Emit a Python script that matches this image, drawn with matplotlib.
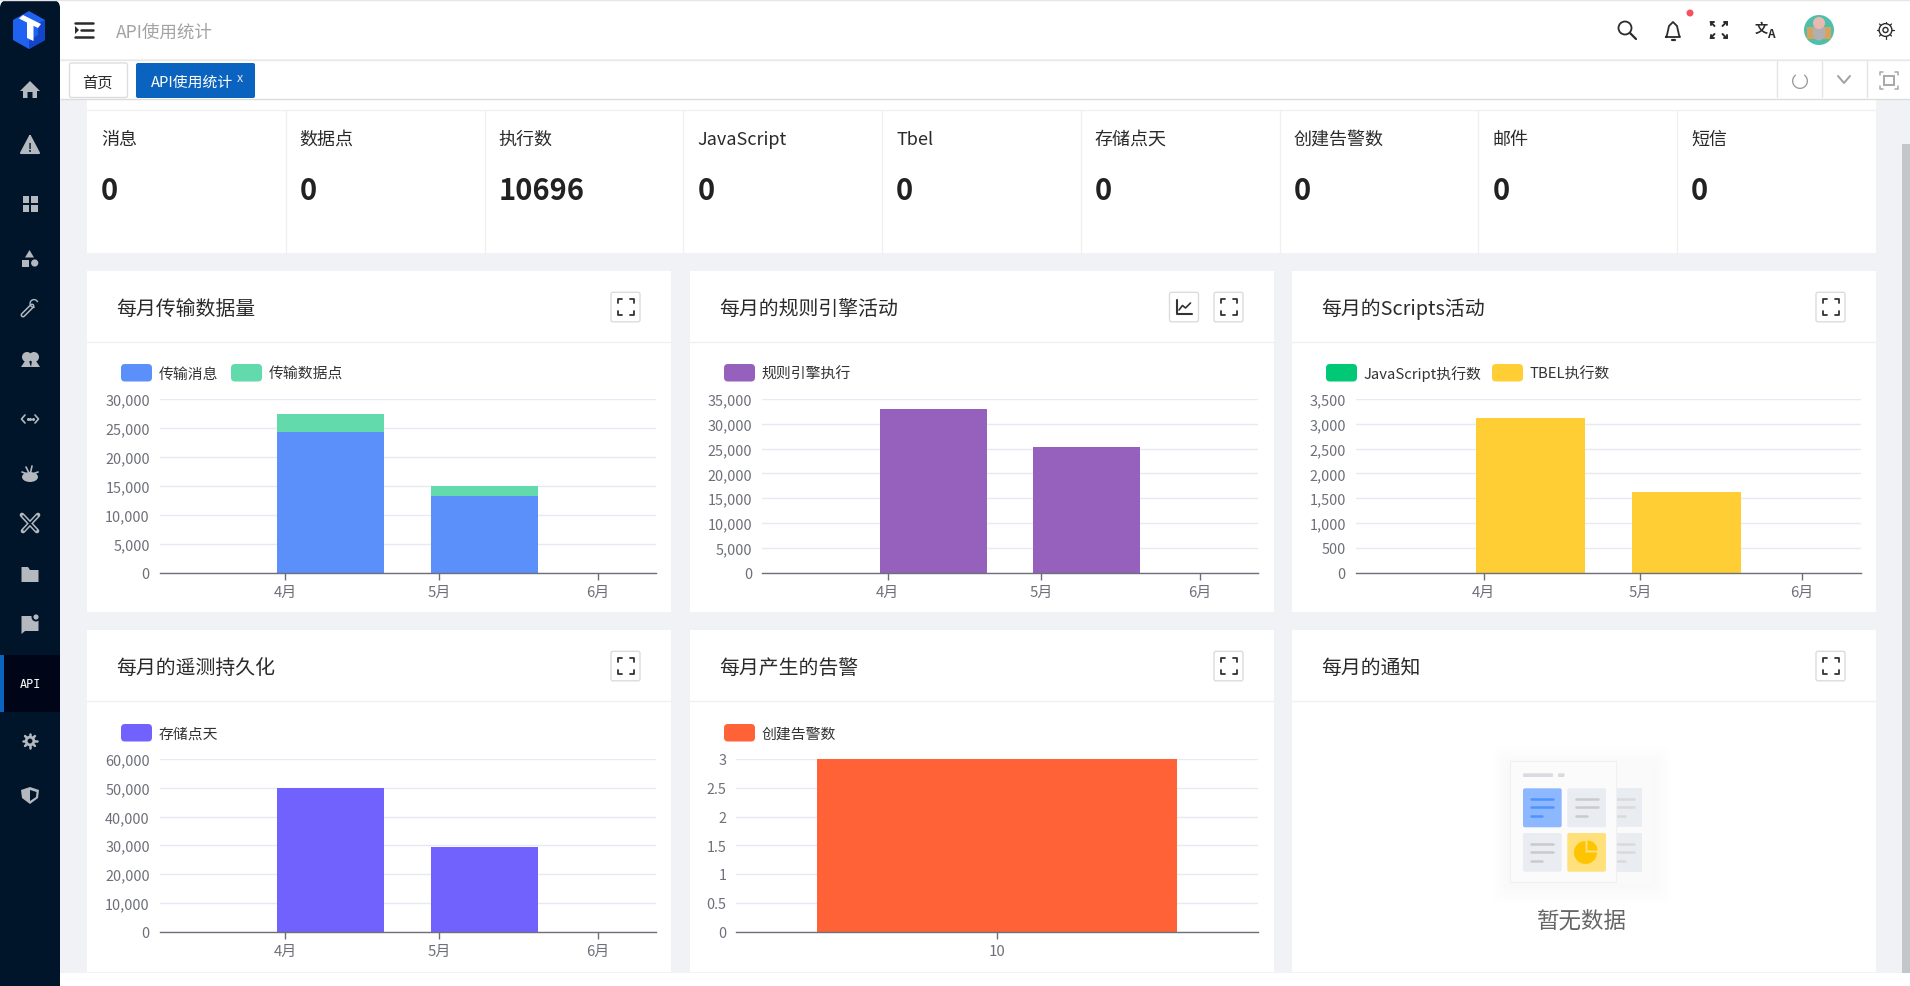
import numpy as np
import matplotlib
matplotlib.use("Agg")
import matplotlib.pyplot as plt
from matplotlib.patches import Rectangle, FancyBboxPatch, Circle, Polygon, Wedge, Ellipse

plt.rcParams['font.family'] = ['Noto Sans CJK SC', 'DejaVu Sans']

W, H = 1910, 987

# Datos
stat_labels = ['消息', '数据点', '执行数', 'JavaScript', 'Tbel', '存储点天', '创建告警数', '邮件', '短信']
stat_values = ['0', '0', '10696', '0', '0', '0', '0', '0', '0']

months = ['4月', '5月', '6月']
month_days = [0, 30, 61]      # eje de tiempo, dias desde el 1 de abril
bar_days = [8.9, 38.9]

transport_msgs = [24300, 13300]
transport_points = [3100, 1600]
rule_engine = [32900, 25300]
js_exec = [0, 0]
tbel_exec = [3115, 1625]
storage_days = [50000, 29500]
alarm_cats = ['10']
alarm_values = [3]

ticks_30k = [0, 5000, 10000, 15000, 20000, 25000, 30000]
ticks_35k = [0, 5000, 10000, 15000, 20000, 25000, 30000, 35000]
ticks_3500 = [0, 500, 1000, 1500, 2000, 2500, 3000, 3500]
ticks_60k = [0, 10000, 20000, 30000, 40000, 50000, 60000]
ticks_alarm = [0, 0.5, 1, 1.5, 2, 2.5, 3]

BG = '#F0F2F5'
SIDE = '#00152A'
ICON = '#B4B8BF'
DARK = '#2B2B2B'
AXIS = '#6E7079'
GRID = '#E6EAF3'

fig = plt.figure(figsize=(W / 100, H / 100), dpi=100, facecolor='white')

# Capa de fondo en pixeles
bg = fig.add_axes([0, 0, 1, 1])
bg.set_xlim(0, W)
bg.set_ylim(H, 0)
bg.axis('off')


def rect(x0, y0, x1, y1, color, z=1, **kw):
    bg.add_patch(Rectangle((x0, y0), x1 - x0, y1 - y0, facecolor=color, edgecolor='none', zorder=z, **kw))


def rrect(x0, y0, x1, y1, color, edge='none', r=3, z=2, lw=1):
    bg.add_patch(FancyBboxPatch((x0 + r, y0 + r), x1 - x0 - 2 * r, y1 - y0 - 2 * r,
                                boxstyle='round,pad=%d,rounding_size=%d' % (r, r),
                                facecolor=color, edgecolor=edge, linewidth=lw, zorder=z))


def line(xs, ys, color=DARK, lw=1.5, z=3):
    bg.plot(xs, ys, color=color, lw=lw, zorder=z, solid_capstyle='round')


def poly(pts, color, z=3):
    bg.add_patch(Polygon(pts, closed=True, facecolor=color, edgecolor='none', zorder=z))


def txt(x, y, s, size, color=DARK, ha='left', weight='normal', z=4, **kw):
    bg.text(x, y, s, fontsize=size, color=color, ha=ha, va='center', fontweight=weight, zorder=z, **kw)


def gear(x, y, r, color, lw=2.0, outline=True, hole='white'):
    for a in np.arange(0, np.pi, np.pi / 4):
        line([x - r * np.cos(a), x + r * np.cos(a)], [y - r * np.sin(a), y + r * np.sin(a)], color, lw)
    bg.add_patch(Circle((x, y), r * 0.75, facecolor=hole if outline else color, edgecolor=color,
                        lw=1 if outline else 0, zorder=3.5))
    if outline:
        bg.add_patch(Circle((x, y), r * 0.3, facecolor=hole, edgecolor=color, lw=1, zorder=3.6))
    else:
        bg.add_patch(Circle((x, y), r * 0.35, facecolor=SIDE, zorder=3.6))


# Fondo general
rect(60, 60, W, H, BG, z=0)
rect(60, 974, W, H, 'white', z=1)

# Barra superior y pestanas
rect(60, 1, W, 60, 'white')
line([60, W], [60.5, 60.5], '#E8E8E8', 1, z=2)
rect(60, 61, W, 100, 'white')
line([60, W], [100, 100], '#DCDCDC', 1, z=2)
line([0, W], [0.5, 0.5], '#E6E6E6', 1, z=2)

line([75, 93], [24, 24], DARK, 1.8)
line([81, 93], [31, 31], DARK, 1.8)
line([75, 93], [38, 38], DARK, 1.8)
poly([(75, 27), (79, 31), (75, 35)], DARK)
txt(116, 33, 'API使用统计', 12.6, '#A3A3A3')

rrect(69.5, 64, 127.5, 98.5, 'white', edge='#DDDDDD', r=2, z=3)
txt(97.5, 83, '首页', 11, DARK, ha='center')
rrect(136, 64, 255, 99, '#0A63BE', r=2, z=3)
txt(151, 83, 'API使用统计', 10.7, 'white')
txt(240, 79, 'x', 9, '#DCE8F7', ha='center')

for sx in [1776.5, 1821.5, 1866.5]:
    line([sx, sx], [62, 98], '#E4E4E4', 1)
bg.add_patch(Wedge((1800, 82), 8, -55, 235, width=1.3, facecolor='#999999', zorder=3))
line([1838, 1844, 1850], [77, 84, 77], '#A0A0A0', 1.4)
bg.add_patch(Rectangle((1884, 77), 10, 9, facecolor='none', edgecolor='#A8A8A8', lw=1.4, zorder=3))
for cx, dx in [(1880, 1), (1898, -1)]:
    line([cx + 3 * dx, cx, cx], [73, 73, 76], '#A8A8A8', 1.1)
    line([cx + 3 * dx, cx, cx], [90, 90, 87], '#A8A8A8', 1.1)

# Iconos arriba a la derecha
bg.add_patch(Circle((1625, 29), 6.5, facecolor='none', edgecolor=DARK, lw=1.3, zorder=3))
line([1630, 1636], [34, 40], DARK, 1.6)
bg.plot([1666, 1667, 1669, 1673, 1677, 1679, 1680, 1666], [38, 36, 27, 23, 27, 36, 38, 38], color=DARK, lw=1.3, zorder=3)
line([1671.5, 1674.5], [41, 41], DARK, 1.6)
bg.add_patch(Circle((1690, 14), 3.5, facecolor='#F5515F', zorder=3))
for sx, sy in [(-1, -1), (1, -1), (-1, 1), (1, 1)]:
    cx, cy = 1718.5 + sx * 8, 31 + sy * 8
    line([cx, cx - sx * 4], [cy, cy - sy * 4], DARK, 1.4)
    line([cx, cx - sx * 3], [cy, cy], DARK, 1.4)
    line([cx, cx], [cy, cy - sy * 3], DARK, 1.4)
txt(1761, 29, '文', 9.5, DARK, ha='center', weight='bold')
txt(1771, 35, 'A', 8.5, DARK, ha='center', weight='bold')
bg.add_patch(Circle((1819, 31), 15, facecolor='#4FBFAD', zorder=3))
rect(1807, 28, 1831, 40, '#D9A25A', z=3.1)
bg.add_patch(Ellipse((1819, 33), 13, 17, facecolor='#B0B0B0', zorder=3.2))
bg.add_patch(Circle((1819, 24), 6, facecolor='#E8B9AE', zorder=3.3))
gear(1885.5, 31, 8.5, DARK, lw=0.9)

# Menu lateral
rect(0, 8, 60, H, SIDE, z=1)
rrect(0, 1, 60, 40, SIDE, r=8, z=1)
poly([(29, 12), (45, 21), (45, 41), (29, 50), (13, 41), (13, 21)], '#1F62F2')
poly([(29, 50), (45, 41), (45, 21), (38, 24), (38, 36), (29, 42)], '#1245C8', z=3.1)
poly([(19, 19.5), (23, 16), (41, 25), (38, 29), (33.5, 26.8), (33.5, 42), (27, 39), (27, 23.5)], 'white', z=3.2)

# casa
poly([(30, 82), (40, 92), (37, 92), (37, 99), (32.5, 99), (32.5, 93), (27.5, 93), (27.5, 99), (23, 99), (23, 92), (20, 92)], ICON)
# aviso
poly([(30, 137), (39, 154), (21, 154)], ICON)
line([30, 39, 21, 30], [137, 154, 154, 137], ICON, 1.5)
txt(30, 148, '!', 8, SIDE, ha='center', weight='bold')
# cuadricula
for gx in [22.5, 31]:
    for gy in [197, 206]:
        rect(gx, gy, gx + 6.8, gy + 7, ICON, z=3)
# formas
poly([(29.5, 251), (34, 258.5), (25, 258.5)], ICON)
rect(22.3, 260.7, 29, 267.5, ICON, z=3)
bg.add_patch(Circle((34.7, 264), 3.6, facecolor=ICON, zorder=3))
# llave
line([23, 32], [316, 307], ICON, 3.6)
line([23, 32], [316, 307], SIDE, 1.4, z=3.1)
bg.add_patch(Wedge((34, 304.5), 4.6, 80, 340, width=1.4, facecolor=ICON, zorder=3.2))
# usuarios
bg.add_patch(Circle((27, 358), 5, facecolor=ICON, zorder=3))
bg.add_patch(Circle((34, 358), 5, facecolor=ICON, zorder=3))
poly([(21, 368), (25, 362), (29, 362), (31, 368)], ICON)
poly([(31, 368), (32, 362), (36, 362), (40, 368)], ICON)
# codigo
line([25, 21.5, 25], [416, 420, 424], ICON, 1.2)
line([35, 38.5, 35], [416, 420, 424], ICON, 1.2)
bg.plot([27.5, 30, 32.5], [420, 420, 420], ls='none', marker='o', ms=1.2, color=ICON, zorder=3)
# nube
bg.add_patch(Ellipse((30, 478), 16, 10, facecolor=ICON, zorder=3))
for px, py in [(22, 473), (26, 468), (32, 467), (38, 473)]:
    line([px, 30], [py, 476], ICON, 1.2)
# herramientas, en contorno
line([22, 37], [516, 532], ICON, 3.4)
line([38, 23], [516, 532], ICON, 3.4)
line([23, 36], [517, 531], SIDE, 1.2, z=3.1)
line([37, 24], [517, 531], SIDE, 1.2, z=3.1)
# carpeta
poly([(21.5, 568), (28, 568), (30, 571), (38.5, 571), (38.5, 583), (21.5, 583)], ICON)
# mensaje
poly([(21.5, 617), (38.5, 617), (38.5, 632), (25, 632), (21.5, 635)], ICON)
bg.add_patch(Circle((36, 618), 4.5, facecolor=SIDE, zorder=3.1))
bg.add_patch(Circle((36, 618), 2.6, facecolor=ICON, zorder=3.2))
# API seleccionado
rect(0, 656, 60, 713, '#000618', z=2)
rect(0, 656, 3.5, 713, '#0A63BE', z=3)
txt(30, 685, 'API', 8.5, 'white', ha='center', family=['DejaVu Sans Mono'])
gear(30, 742, 7, ICON, lw=1.8, outline=False)
# escudo
poly([(30, 788), (39, 791), (38, 799), (30, 805), (22, 799), (21, 791)], ICON)
poly([(30, 791), (36.5, 793), (36, 798), (30, 802)], SIDE, z=3.1)

# Scrollbar
rect(1902, 145, 1910, 974, '#C4C6C9', z=2)

# Tarjeta de estadisticas
stats_x0, stats_x1 = 87, 1876
rect(stats_x0, 101, stats_x1, 254, 'white')
line([stats_x0, stats_x1], [110.5, 110.5], '#F0F0F0', 1)
cell_w = (stats_x1 - stats_x0) / len(stat_labels)
for i in range(len(stat_labels)):
    cx = stats_x0 + i * cell_w
    if i > 0:
        line([cx, cx], [111, 254], '#F0F0F0', 1)
    txt(cx + 14, 140, stat_labels[i], 13, '#2A2A2A')
    txt(cx + 14, 191, stat_values[i], 21, '#222222', weight='bold')

# Tarjetas de graficas
card_x = [(87, 671), (690, 1274), (1292, 1876)]
card_rows = [(272, 613), (631, 973)]
card_titles = [['每月传输数据量', '每月的规则引擎活动', '每月的Scripts活动'],
               ['每月的遥测持久化', '每月产生的告警', '每月的通知']]


def expand_btn(x0, y0):
    rrect(x0, y0, x0 + 29, y0 + 29.5, 'white', edge='#DCDCDC', r=2, z=3)
    for sx, sy in [(-1, -1), (1, -1), (-1, 1), (1, 1)]:
        cx, cy = x0 + 14.5 + sx * 8, y0 + 14.7 + sy * 8
        line([cx - sx * 4, cx, cx], [cy, cy, cy - sy * 4], '#333333', 1.3, z=4)


for r, (top, bot) in enumerate(card_rows):
    for c, (x0, x1) in enumerate(card_x):
        rect(x0, top, x1, bot, 'white')
        line([x0, x1], [top + 70.5, top + 70.5], '#F0F0F0', 1)
        txt(x0 + 29.5, top + 37, card_titles[r][c], 14.3, '#2A2A2A')
        expand_btn(x1 - 60, top + 21.3)

# boton extra del grafico 2
rrect(1169.5, 293.3, 1198.5, 322.8, 'white', edge='#DCDCDC', r=2, z=3)
line([1176.5, 1176.5, 1191.5], [301, 314.5, 314.5], '#333333', 1.5, z=4)
line([1179, 1182.5, 1185.5, 1190.5], [311, 306.5, 309, 304], '#333333', 1.2, z=4)


def swatch(x0, y0, color, label, text_x):
    rrect(x0, y0, x0 + 31, y0 + 17.5, color, r=4, z=3)
    txt(text_x, y0 + 9.5, label, 10.7, '#333333')


swatch(121, 365, '#5B8FF9', '传输消息', 159)
swatch(231, 365, '#62DAAB', '传输数据点', 269)
swatch(724, 365, '#9661BC', '规则引擎执行', 761.5)
swatch(1326, 365, '#00C875', 'JavaScript执行数', 1363.5)
swatch(1492, 365, '#FFCE34', 'TBEL执行数', 1529.5)
swatch(121, 725, '#7262FD', '存储点天', 158.5)
swatch(724, 725, '#FF6237', '创建告警数', 761.5)


def chart_axes(left, right, top, bottom, yticks):
    ax = fig.add_axes([left / W, 1 - bottom / H, (right - left) / W, (bottom - top) / H])
    ax.patch.set_alpha(0)
    for s in ['top', 'left', 'right']:
        ax.spines[s].set_visible(False)
    ax.spines['bottom'].set_color(AXIS)
    ax.spines['bottom'].set_linewidth(1)
    ax.spines['bottom'].set_zorder(5)
    ax.set_axisbelow(True)
    ax.yaxis.grid(True, color=GRID, lw=1)
    ax.set_ylim(yticks[0], yticks[-1])
    ax.set_yticks(yticks)
    labels = [format(v, ',') if isinstance(v, int) else str(v) for v in yticks]
    ax.set_yticklabels(labels, color=AXIS, fontsize=10.4)
    ax.tick_params(axis='y', length=0, pad=7)
    ax.tick_params(axis='x', length=5, width=1, color=AXIS, pad=4, labelcolor=AXIS, labelsize=10.8)
    return ax


def month_chart(left, right, top, bottom, yticks):
    ax = chart_axes(left, right, top, bottom, yticks)
    ax.set_xlim(-24.6, 72.4)
    ax.set_xticks(month_days)
    ax.set_xticklabels(months)
    return ax


bar_w = 20.9

ax1 = month_chart(159.5, 656, 400, 573.5, ticks_30k)
ax1.bar(bar_days, transport_msgs, width=bar_w, color='#5B8FF9')
ax1.bar(bar_days, transport_points, width=bar_w, bottom=transport_msgs, color='#62DAAB')

ax2 = month_chart(762, 1258, 400, 573.5, ticks_35k)
ax2.bar(bar_days, rule_engine, width=bar_w, color='#9661BC')

ax3 = month_chart(1355.5, 1861, 400, 573.5, ticks_3500)
ax3.bar(bar_days, js_exec, width=bar_w, color='#00C875')
ax3.bar(bar_days, tbel_exec, width=bar_w, bottom=js_exec, color='#FFCE34')

ax4 = month_chart(159.5, 656, 760, 932.5, ticks_60k)
ax4.bar(bar_days, storage_days, width=bar_w, color='#7262FD')

ax5 = chart_axes(736, 1258, 760, 932.5, ticks_alarm)
ax5.bar(range(len(alarm_cats)), alarm_values, width=0.69, color='#FF6237')
ax5.set_xlim(-0.5, 0.5)
ax5.set_xticks(range(len(alarm_cats)))
ax5.set_xticklabels(alarm_cats)

# Estado vacio del grafico de notificaciones
for k in range(6):
    g = 3 * (6 - k)
    rrect(1510 - g, 762 - g + 4, 1653 + g, 884 + g + 2, '#000000', r=6, z=2.1)
    bg.patches[-1].set_alpha(0.003)
rect(1616, 763, 1653, 884, '#FAFAFA', z=2.2)
rect(1510, 762, 1616, 883, '#FBFBFB', z=2.4, )
bg.add_patch(Rectangle((1510, 762), 106, 121, facecolor='none', edgecolor='#F0F0F0', lw=0.8, zorder=2.45))
for ly, lh in [(789.3, 828.3), (834, 872.7)]:
    rect(1616.7, ly, 1641.7, lh, '#E9ECF1', z=2.3)
rrect(1523, 789.3, 1561.7, 828.3, '#8DB8FF', r=2, z=2.5)
rrect(1567.3, 789.3, 1606, 828.3, '#E9ECF1', r=2, z=2.5)
rrect(1523, 834, 1561.7, 872.7, '#E9ECF1', r=2, z=2.5)
rrect(1567.3, 834, 1606, 872.7, '#FFE07A', r=2, z=2.5)
rrect(1523, 774.3, 1553, 778, '#D9DBE0', r=1, z=2.6)
rrect(1558, 774.3, 1564.5, 778, '#D9DBE0', r=1, z=2.6)
for ax0, acol in [(1531, '#4E94FF'), (1575.5, '#C8CACE')]:
    for dy, dw in [(0, 22), (8.3, 22), (16.7, 11)]:
        line([ax0, ax0 + dw], [800 + dy, 800 + dy], acol, 1.8, z=2.7)
for dy, dw in [(0, 22), (8.3, 22), (16.7, 11)]:
    line([1531, 1531 + dw], [845 + dy, 845 + dy], '#C8CACE', 1.8, z=2.7)
    line([1617, 1617 + dw * 0.75], [800 + dy, 800 + dy], '#D8DADE', 1.8, z=2.35)
    line([1617, 1617 + dw * 0.75], [845 + dy, 845 + dy], '#D8DADE', 1.8, z=2.35)
bg.add_patch(Wedge((1585.5, 853.5), 11.5, 0, 270, facecolor='#FFC400', zorder=2.7))
bg.add_patch(Wedge((1587.5, 851.5), 10, 270, 360, facecolor='#FFC400', zorder=2.7))
txt(1581.5, 922, '暂无数据', 16.2, '#666666', ha='center')

fig.savefig('out.png', dpi=100, facecolor='white')
